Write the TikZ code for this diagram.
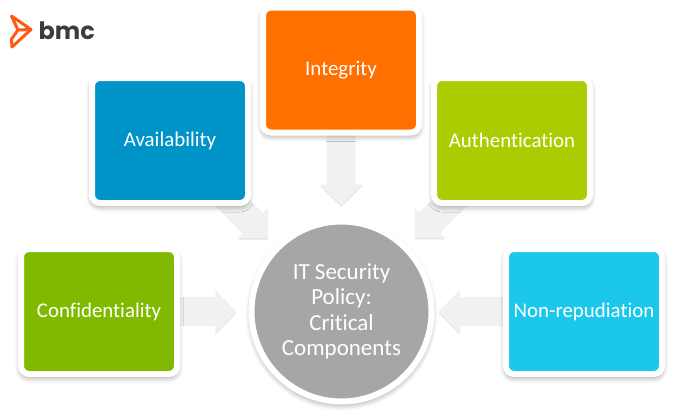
\documentclass[tikz,border=0pt]{standalone}
\usepackage{fontspec}
\setmainfont[Ligatures=NoCommon]{Carlito}
\newfontfamily\logofont{Poppins}
\usetikzlibrary{positioning,arrows.meta,backgrounds,shadows.blur}
\definecolor{availcol}{HTML}{0093C8}
\definecolor{integcol}{HTML}{FF7000}
\definecolor{authcol}{HTML}{ABCC00}
\definecolor{confcol}{HTML}{7FBA00}
\definecolor{noncol}{HTML}{1BC7EA}
\definecolor{policycol}{HTML}{A6A6A6}
\definecolor{arrowcol}{HTML}{F1F1F1}
\definecolor{logocol}{HTML}{FF5A14}
\definecolor{logotext}{HTML}{3C3C3C}
\begin{document}
\begin{tikzpicture}[x=1pt, y=-1pt, >=Latex]
    % Define styles for boxes, the circle and the wide arrows
    \tikzstyle{topic} = [rectangle, draw=white, line width=6pt, rounded corners=8pt, minimum width=156pt, minimum height=125pt, outer sep=3pt, text=white, font=\fontsize{20.9}{24}\selectfont, blur shadow={shadow xshift=0pt, shadow yshift=-3pt, shadow blur radius=6pt, shadow opacity=45}]
    \tikzstyle{policy} = [circle, draw=white, line width=6pt, fill=policycol, minimum size=180pt, outer sep=3pt, inner sep=0pt, text=white, align=center, font=\fontsize{23}{25.5}\selectfont, blur shadow={shadow xshift=0pt, shadow yshift=-3pt, shadow blur radius=6pt, shadow opacity=45}]
    \tikzstyle{wide} = [draw=arrowcol, line width=29pt, -{Triangle[length=21pt, width=41pt]}, preaction={draw=black!10, transform canvas={yshift=-1.5pt}}]

    \useasboundingbox (0,0) rectangle (682,415);

    % Nodes placement
    \node [policy] (policy) at (341.5,311.5) {IT Security\\Policy:\\Critical\\Components};
    \node [topic, fill=availcol] (availability) at (170,140.5) {Availability};
    \node [topic, fill=integcol] (integrity) at (341,70) {Integrity};
    \node [topic, fill=authcol] (authentication) at (512,140.5) {Authentication};
    \node [topic, fill=confcol] (confidentiality) at (99,311.5) {Confidentiality};
    \node [topic, fill=noncol] (nonrep) at (584,311.5) {Non-repudiation};

    % Draw edges behind the boxes
    \begin{scope}[on background layer]
    \draw[wide, shorten >=11pt] (availability.center) -- (policy);
    \draw[wide, shorten >=13pt] (integrity.center) -- (policy);
    \draw[wide, shorten >=11pt] (authentication.center) -- (policy);
    \draw[wide, shorten >=12pt] (confidentiality.center) -- (policy);
    \draw[wide, shorten >=4pt] (nonrep.center) -- (policy);
    \end{scope}

    % Logo
    \draw[logocol, line width=3pt, line join=round] (11.5,16) -- (31,29.5) -- (12,47) -- (11.5,39) -- (18,30) -- cycle;
    \draw[logocol, line width=3pt] (18,30) -- (31,29.5);
    \node [right, text=logotext, inner sep=0pt, font=\logofont\bfseries\fontsize{24}{24}\selectfont] (logo) at (38.5,30.5) {bmc};
\end{tikzpicture}
\end{document}
